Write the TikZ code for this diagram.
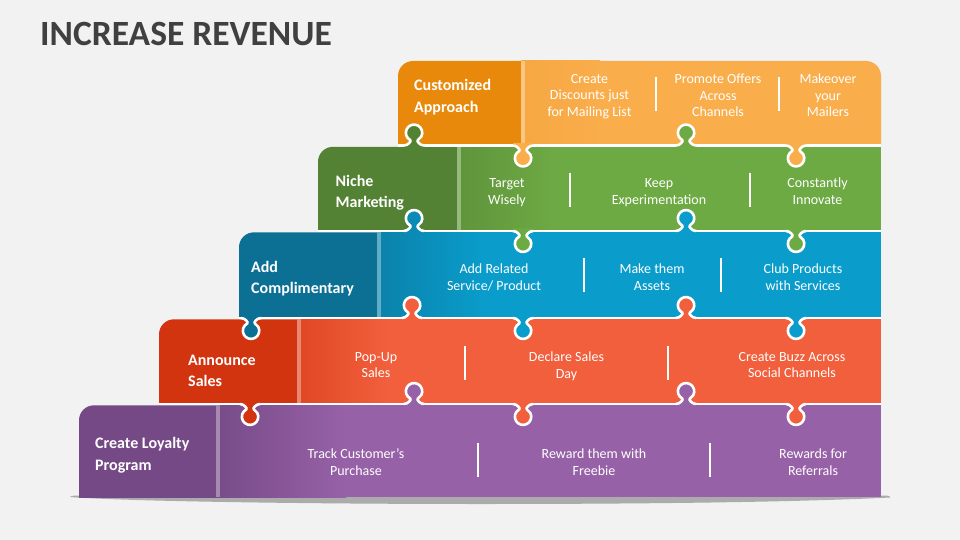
\documentclass[tikz,border=0pt]{standalone}
\usepackage{fontspec}
\setmainfont{Carlito}
\definecolor{bg}{HTML}{F2F2F2}
\definecolor{titlec}{HTML}{404040}
\definecolor{ogD}{HTML}{E8890C}
\definecolor{ogL}{HTML}{F9AD4B}
\definecolor{gnD}{HTML}{548235}
\definecolor{gnL}{HTML}{6EAA44}
\definecolor{blD}{HTML}{0B7094}
\definecolor{blL}{HTML}{0A9DCC}
\definecolor{rdD}{HTML}{D23410}
\definecolor{rdL}{HTML}{F15F3C}
\definecolor{puD}{HTML}{744985}
\definecolor{puL}{HTML}{9761A7}
\colorlet{ogS}{ogL!85!ogD}
\colorlet{gnS}{gnD!55!gnL}
\colorlet{blS}{blD!60!blL}
\colorlet{rdS}{rdD!55!rdL}
\colorlet{puS}{puD!90!puL}
\colorlet{blK}{blD!40!blL}
\tikzset{
  lbl/.style={text=white, font=\bfseries\fontsize{16}{21.6}\selectfont, align=left, anchor=west, inner sep=0pt,
    execute at begin node=\strut, execute at end node=\strut},
  txt/.style={text=white, font=\fontsize{14}{16.7}\selectfont, align=center, inner sep=0pt,
    execute at begin node=\strut, execute at end node=\strut},
  sepline/.style={white, line width=2pt},
  gapfill/.style={fill=white},
  pics/knob/.style={code={
    \fill[#1] (-10,0) .. controls (-6,0) and (-2.3,-4.5) .. (-3.8,-5.5)
      arc[start angle=118, end angle=422, radius=8.2]
      .. controls (2.3,-4.5) and (6,0) .. (10,0) -- (10,2.6) -- (-10,2.6) -- cycle;
    \draw[white, line width=2.6pt] (-10,0) .. controls (-6,0) and (-2.3,-4.5) .. (-3.8,-5.5)
      arc[start angle=118, end angle=422, radius=8.2]
      .. controls (2.3,-4.5) and (6,0) .. (10,0);
  }}
}
\begin{document}
\begin{tikzpicture}[x=1pt,y=-1pt]
\useasboundingbox (0,0) rectangle (960,540);
\fill[bg] (0,0) rectangle (960,540);

% title
\node[anchor=base west, inner sep=0pt, text=titlec, font=\bfseries\fontsize{35.5}{40}\selectfont] (title) at (40,45.7) {INCREASE REVENUE};

% shadow
\fill[black!33] (70,497) .. controls (72,495.5) .. (90,495.5) -- (885,495.5)
  .. controls (890,496) .. (890,497.5) .. controls (800,502) and (650,504) .. (480,504)
  .. controls (300,504) and (120,501) .. (70,497) -- cycle;

% ---------- row 1 orange ----------
\begin{scope}
  \clip (398,61) rectangle (521,144.2);
  \fill[ogD, rounded corners=15] (398,61) rectangle (560,180);
\end{scope}
\begin{scope}
  \clip (521,61) rectangle (881,144.2);
  \fill[ogL, rounded corners=15] (480,61) rectangle (881,180);
  \shade[left color=ogS, right color=ogL] (521,61) rectangle (600,144.2);
  \fill[white, opacity=.35] (521,61) rectangle (525,144.2);
\end{scope}

% ---------- row 2 green ----------
\begin{scope}
  \clip (318,146.8) rectangle (457,229.7);
  \fill[gnD, rounded corners=15] (318,146.8) rectangle (500,260);
\end{scope}
\fill[gnL] (457,146.8) rectangle (881,229.7);
\shade[left color=gnS, right color=gnL] (457,146.8) rectangle (557,229.7);
\fill[white, opacity=.35] (457,146.8) rectangle (461,229.7);

% ---------- row 3 blue ----------
\begin{scope}
  \clip (239,232.3) rectangle (377,316.7);
  \fill[blD, rounded corners=15] (239,232.3) rectangle (420,350);
\end{scope}
\fill[blL] (377,232.3) rectangle (881,316.7);
\shade[left color=blS, right color=blL] (377,232.3) rectangle (487,316.7);
\fill[white, opacity=.35] (377,232.3) rectangle (381,316.7);

% ---------- row 4 red ----------
\begin{scope}
  \clip (159,319.3) rectangle (297,402.7);
  \fill[rdD, rounded corners=15] (159,319.3) rectangle (340,440);
\end{scope}
\fill[rdL] (297,319.3) rectangle (881,402.7);
\shade[left color=rdS, right color=rdL] (297,319.3) rectangle (387,402.7);
\fill[white, opacity=.35] (297,319.3) rectangle (301,402.7);

% ---------- row 5 purple ----------
\begin{scope}
  \clip (79,405.3) rectangle (216,497);
  \fill[puD, rounded corners=15] (79,405.3) rectangle (260,530);
\end{scope}
\fill[puL] (216,405.3) rectangle (881,497);
\shade[left color=puS, right color=puL] (216,405.3) rectangle (346,497);
\fill[white, opacity=.35] (216,405.3) rectangle (220,497);

% white gaps between rows
\fill[gapfill] (398,144.2) rectangle (881,146.8);
\fill[gapfill] (318,229.7) rectangle (881,232.3);
\fill[gapfill] (239,316.7) rectangle (881,319.3);
\fill[gapfill] (159,402.7) rectangle (881,405.3);

% separators
\draw[sepline] (656,77) -- (656,111);
\draw[sepline] (779,77) -- (779,111);
\draw[sepline] (570,173) -- (570,207);
\draw[sepline] (750,173) -- (750,207);
\draw[sepline] (584,258) -- (584,292);
\draw[sepline] (721,258) -- (721,292);
\draw[sepline] (465,346) -- (465,380);
\draw[sepline] (668,346) -- (668,380);
\draw[sepline] (478,443) -- (478,477);
\draw[sepline] (710,443) -- (710,477);

% knobs: orange / green
\pic at (414,145.5) {knob=gnD};
\pic[yscale=-1] at (523,145.5) {knob=ogL};
\pic at (686,145.5) {knob=gnL};
\pic[yscale=-1] at (796,145.5) {knob=ogL};
% green / blue
\pic at (414,231) {knob=blK};
\pic[yscale=-1] at (523,231) {knob=gnL};
\pic at (686,231) {knob=blL};
\pic[yscale=-1] at (796,231) {knob=gnL};
% blue / red
\pic[yscale=-1] at (251,318) {knob=blD};
\pic at (412,318) {knob=rdL};
\pic[yscale=-1] at (523,318) {knob=blL};
\pic at (686,318) {knob=rdL};
\pic[yscale=-1] at (796,318) {knob=blL};
% red / purple
\pic[yscale=-1] at (250,404) {knob=rdD};
\pic at (414,404) {knob=puL};
\pic[yscale=-1] at (523,404) {knob=rdL};
\pic at (686,404) {knob=puL};
\pic[yscale=-1] at (796,404) {knob=rdL};

% left labels
\node[lbl] (l1) at (414,99) {Customized\\Approach};
\node[lbl] (l2) at (335.5,194.7) {Niche\\Marketing};
\node[lbl] (l3) at (251,280.7) {Add\\Complimentary};
\node[lbl] (l4) at (188,374) {Announce\\Sales};
\node[lbl] (l5) at (95,457.3) {Create Loyalty\\Program};

% texts row 1
\node[txt] (t11) at (589.5,97.7) {Create\\Discounts just\\for Mailing List};
\node[txt] (t12) at (718,97.7) {Promote Offers\\Across\\Channels};
\node[txt] (t13) at (828,97.7) {Makeover\\your\\Mailers};
% row 2
\node[txt] (t21) at (507,193.7) {Target\\Wisely};
\node[txt] (t22) at (659,193.7) {Keep\\Experimentation};
\node[txt] (t23) at (817.5,193.7) {Constantly\\Innovate};
% row 3
\node[txt] (t31) at (494,279.3) {Add Related\\Service/ Product};
\node[txt] (t32) at (652,279.3) {Make them\\Assets};
\node[txt] (t33) at (803,279.3) {Club Products\\with Services};
% row 4
\node[txt] (t41) at (376,367.5) {Pop-Up\\Sales};
\node[txt] (t42) at (566.5,367.5) {Declare Sales\\Day};
\node[txt] (t43) at (792,367.5) {Create Buzz Across\\Social Channels};
% row 5
\node[txt] (t51) at (356,464.3) {Track Customer's\\Purchase};
\node[txt] (t52) at (594,464.3) {Reward them with\\Freebie};
\node[txt] (t53) at (813,464.3) {Rewards for\\Referrals};
\end{tikzpicture}
\end{document}
